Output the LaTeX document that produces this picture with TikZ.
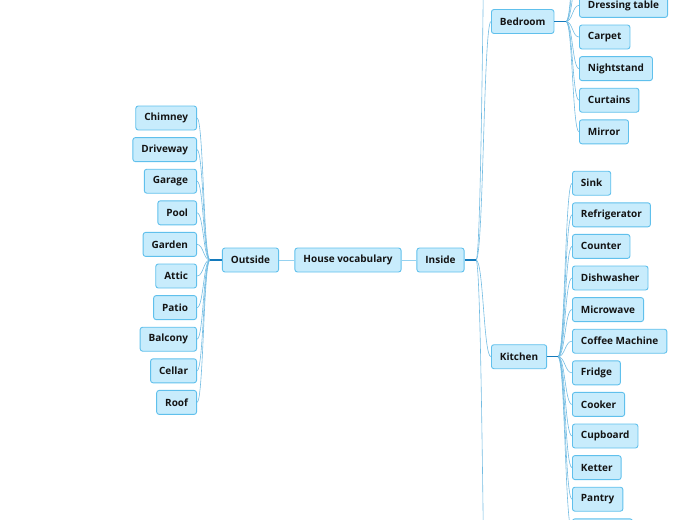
\documentclass[tikz,border=0pt]{standalone}
\usepackage{fontspec}
\setmainfont{Open Sans}
\usetikzlibrary{calc}
\definecolor{boxfill}{RGB}{200,236,252}
\definecolor{boxline}{RGB}{96,192,236}
\definecolor{textc}{RGB}{20,20,20}
\definecolor{branchc}{RGB}{115,188,226}
\definecolor{stubc}{RGB}{20,122,188}
\definecolor{rootline}{RGB}{150,210,240}
\tikzset{
  topic/.style={draw=boxline, fill=boxfill, rounded corners=2.5pt, line width=0.9pt,
    minimum height=24pt, inner xsep=8.5pt, inner ysep=0pt, text=textc,
    font=\bfseries\fontsize{10}{12}\selectfont},
  branch/.style={draw=branchc, line width=0.6pt},
  stub/.style={draw=stubc, line width=1.4pt},
  rootlink/.style={draw=rootline, line width=0.9pt}
}
\newcommand\br[3]{\draw[branch] (#1) .. controls ($(#1)+(#3,0)$) and ($(#2)-(#3,0)$) .. (#2);}
\begin{document}
\begin{tikzpicture}[x=1pt,y=-1pt]
\useasboundingbox (0,0) rectangle (697,520);
\clip (0,0) rectangle (697,520);

% root row
\node[topic] (hv) at (348,260) {House vocabulary};
\node[topic] (out) at (250.5,260) {Outside};
\node[topic] (ins) at (440.5,260) {Inside};
\draw[rootlink] (hv.west) -- (out.east);
\draw[rootlink] (hv.east) -- (ins.west);

% Outside children
\coordinate (oj) at (210,260);
\foreach \n/\t/\y in {o1/Chimney/118, o2/Driveway/149.6, o3/Garage/181.2, o4/Pool/212.8,
  o5/Garden/244.4, o6/Attic/276, o7/Patio/307.6, o8/Balcony/339.2, o9/Cellar/370.8, o10/Roof/402.4}{
  \node[topic, anchor=east] (\n) at (197,\y) {\t};
  \br{oj}{\n.east}{-6.5}
}
\draw[stub] (out.west) -- (oj);

% Inside children
\coordinate (ij) at (476,260);
\node[topic, anchor=west] (bed) at (491,21.5) {Bedroom};
\node[topic, anchor=west] (kit) at (491,356.7) {Kitchen};
\coordinate (iup) at (491,-310);
\coordinate (idown) at (491,830);
\br{ij}{bed.west}{7.5}
\br{ij}{kit.west}{7.5}
\br{ij}{iup}{7.5}
\br{ij}{idown}{7.5}
\draw[stub] (ins.east) -- (ij);

% Bedroom children
\coordinate (bj) at (566,21.5);
\coordinate (bu1) at (579,-25.8);
\coordinate (bu2) at (579,-57.4);
\coordinate (bu3) at (579,-89);
\foreach \n/\t/\y in {b1/Dressing table/5.4, b2/Carpet/37, b3/Nightstand/68.6, b4/Curtains/100.2, b5/Mirror/131.8}{
  \node[topic, anchor=west] (\n) at (579,\y) {\t};
  \br{bj}{\n.west}{6.5}
}
\br{bj}{bu1}{6.5}
\br{bj}{bu2}{6.5}
\br{bj}{bu3}{6.5}
\draw[stub] (bed.east) -- (bj);

% Kitchen children
\coordinate (kj) at (558,356.7);
\foreach \n/\t/\y in {k1/Sink/183.2, k2/Refrigerator/214.8, k3/Counter/246.4, k4/Dishwasher/278,
  k5/Microwave/309.6, k6/Coffee Machine/341.2, k7/Fridge/372.8, k8/Cooker/404.4,
  k9/Cupboard/436, k10/Ketter/467.6, k11/Pantry/499.2}{
  \node[topic, anchor=west] (\n) at (572,\y) {\t};
  \br{kj}{\n.west}{7}
}
\node[topic, anchor=west, minimum width=60pt] (k12) at (572,530.8) {};
\br{kj}{k12.west}{7}
\draw[stub] (kit.east) -- (kj);
\end{tikzpicture}
\end{document}
